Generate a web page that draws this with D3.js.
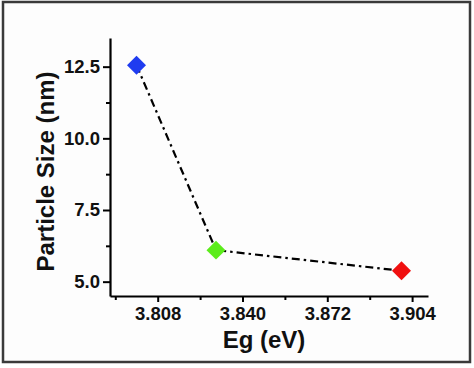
<!DOCTYPE html>
<html><head><meta charset="utf-8">
<script src="https://cdn.jsdelivr.net/npm/d3@7"></script>
<style>html,body{margin:0;padding:0;background:#fff;}svg{display:block;}</style>
</head><body>
<svg id="c" width="474" height="368"></svg>
<script>
const bandGap = [3.800, 3.830, 3.900];
const particleSize = [12.55, 6.1, 5.38];
const pointColors = ["#1f3cf0", "#5cec1c", "#f01010"];
const xTickValues = [3.808, 3.840, 3.872, 3.904];
const xMinorTicks = [3.792, 3.824, 3.856, 3.888];
const yTickValues = [5.0, 7.5, 10.0, 12.5];
const yMinorTicks = [6.25, 8.75, 11.25];
const xTitle = "Eg (eV)";
const yTitle = "Particle Size (nm)";

const svg = d3.select("#c");
svg.append("rect").attr("x",0).attr("y",0).attr("width",474).attr("height",368).attr("fill","#fff");
svg.append("rect").attr("x",3).attr("y",2).attr("width",467).attr("height",360)
  .attr("fill","#fdfdfd").attr("stroke","#3a3a3a").attr("stroke-width",2.5);

const x = d3.scaleLinear().domain([3.790, 3.910]).range([110, 428]);
const y = d3.scaleLinear().domain([4.5, 13.5]).range([296, 38]);
const font = "'Liberation Sans', Arial, sans-serif";

// x axis
const gx = svg.append("g").attr("transform","translate(0,296)");
gx.call(d3.axisBottom(x).tickValues(xTickValues).tickFormat(d3.format(".3f")).tickSize(6).tickSizeOuter(0).tickPadding(5));
gx.append("g").call(d3.axisBottom(x).tickValues(xMinorTicks).tickFormat("").tickSize(4).tickSizeOuter(0))
  .select(".domain").remove();
// y axis
const gy = svg.append("g").attr("transform","translate(110,0)");
gy.call(d3.axisLeft(y).tickValues(yTickValues).tickFormat(d3.format(".1f")).tickSize(7).tickSizeOuter(0).tickPadding(3));
gy.append("g").call(d3.axisLeft(y).tickValues(yMinorTicks).tickFormat("").tickSize(4).tickSizeOuter(0))
  .select(".domain").remove();

svg.selectAll(".domain").attr("stroke","#000").attr("stroke-width",2.2);
svg.selectAll(".tick line").attr("stroke","#000").attr("stroke-width",2);
gx.selectAll(".tick text").attr("font-family",font).attr("font-weight","bold").attr("font-size","18.5px").attr("fill","#111");
gy.selectAll(".tick text").attr("font-family",font).attr("font-weight","bold").attr("font-size","18.5px").attr("fill","#111");

// line
const pts = bandGap.map((v,i)=>({x:v,y:particleSize[i],c:pointColors[i]}));
svg.append("path").datum(pts)
  .attr("d", d3.line().x(d=>x(d.x)).y(d=>y(d.y)))
  .attr("fill","none").attr("stroke","#000").attr("stroke-width",2.2)
  .attr("stroke-dasharray","8,4,2.5,4");

// diamonds
const sym = d3.symbol().type(d3.symbolSquare).size(180);
svg.selectAll(".pt").data(pts).enter().append("path")
  .attr("d", sym)
  .attr("transform", d=>`translate(${x(d.x)},${y(d.y)}) rotate(45)`)
  .attr("fill", d=>d.c);

// titles
svg.append("text").attr("x",264).attr("y",348).attr("text-anchor","middle")
  .attr("font-family",font).attr("font-weight","bold").attr("font-size","24px").attr("fill","#111").text(xTitle);
svg.append("text").attr("transform","translate(54,171.5) rotate(-90)").attr("text-anchor","middle")
  .attr("font-family",font).attr("font-weight","bold").attr("font-size","24px").attr("fill","#111").text(yTitle);
</script>
</body></html>
